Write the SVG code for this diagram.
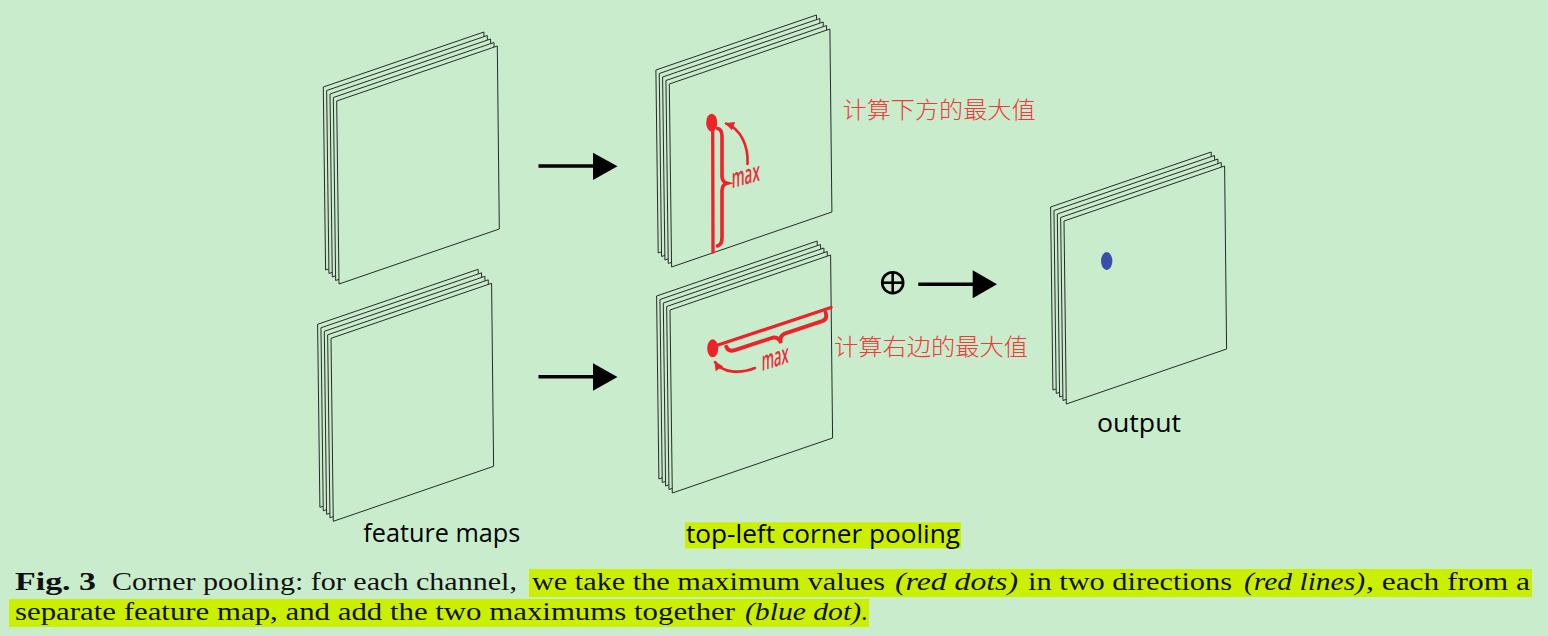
<svg xmlns="http://www.w3.org/2000/svg" xmlns:xlink="http://www.w3.org/1999/xlink" width="1548" height="636" viewBox="0 0 1548 636">
<style>
.sheet{fill:#c8eccc;stroke:#2a2a2a;stroke-width:1;stroke-linejoin:miter}
.red{stroke:#ee2229;fill:none;stroke-linecap:round}
.redf{fill:#ee2229}
.lbl{font-family:"Open Sans","DejaVu Sans",sans-serif;font-size:25px;fill:#000}
.cn{font-family:"Noto Sans CJK SC",sans-serif;font-size:23px;font-weight:300;fill:#f03a3a}
.max{font-family:"Open Sans","DejaVu Sans",sans-serif;font-size:27px;font-weight:600;fill:#e8303a}
.cap{font-family:"Liberation Serif","Times New Roman",serif;font-size:26px;fill:#111}
.it{font-style:italic}
.hl{fill:#cbef00}
.arrow{stroke:#000;stroke-width:3.5}
</style>
<defs>
<polygon id="sh" points="0,0 160.6,-55 162.6,128 2.3,183"/>
<g id="stack">
<use xlink:href="#sh" class="sheet" transform="translate(-13.4,-14)"/>
<use xlink:href="#sh" class="sheet" transform="translate(-10.05,-10.5)"/>
<use xlink:href="#sh" class="sheet" transform="translate(-6.7,-7)"/>
<use xlink:href="#sh" class="sheet" transform="translate(-3.35,-3.5)"/>
<use xlink:href="#sh" class="sheet"/>
</g>
<marker id="ah" viewBox="0 0 10 10" refX="9" refY="5" markerWidth="9" markerHeight="10" markerUnits="userSpaceOnUse" orient="auto">
<path d="M0,0 L10,5 L0,10 z" fill="#ee2229"/>
</marker>
</defs>
<rect width="1548" height="636" fill="#c8eccc"/>

<g id="stack-top-input"><use xlink:href="#stack" transform="translate(336.7,101)"/></g>
<g id="stack-bottom-input"><use xlink:href="#stack" transform="translate(331,338.3)"/></g>
<g id="stack-top-pool"><use xlink:href="#stack" transform="translate(669.3,84)"/></g>
<g id="stack-bottom-pool"><use xlink:href="#stack" transform="translate(670,310)"/></g>
<g id="stack-output"><use xlink:href="#stack" transform="translate(1064,221)"/></g>

<g id="annot-top">
<line class="red" x1="712.7" y1="126" x2="713" y2="252" stroke-width="3.3"/>
<ellipse class="redf" cx="711.7" cy="122.7" rx="5.5" ry="9"/>
<path class="red" stroke-width="3.6" d="M717.5,128.5 Q722,129.5 722,136 L722,176 Q722,182 727,183.3 Q722,184.6 722,191 L722,238 Q722,244.5 717.5,246"/>
<path class="red" stroke-width="2.6" d="M747.5,164 C748.5,146 741,129 726,123.5" marker-end="url(#ah)"/>
<text class="max" transform="matrix(0.5,-0.14,0,1,731.7,188.3)">max</text>
<text class="cn" x="842.5" y="118" textLength="193" lengthAdjust="spacingAndGlyphs">计算下方的最大值</text>
</g>

<g id="annot-bottom">
<line class="red" x1="712" y1="347" x2="831" y2="307.5" stroke-width="3.3"/>
<ellipse class="redf" cx="712.7" cy="348.3" rx="5.5" ry="9"/>
<g transform="translate(712.7,347) rotate(-18.4)">
<path class="red" stroke-width="3.8" d="M13,4 Q13,10 20,10 L58,10 Q66,10 66,18 Q66,10 74,10 L112,10 Q118,10 118,3"/>
</g>
<path class="red" stroke-width="2.6" d="M755,368 C740,374 722,373 715,362" marker-end="url(#ah)"/>
<text class="max" transform="matrix(0.48,-0.15,0,1,761.7,371)">max</text>
<text class="cn" x="834" y="355" textLength="194" lengthAdjust="spacingAndGlyphs">计算右边的最大值</text>
</g>

<g id="blue-dot"><ellipse cx="1106.7" cy="261" rx="5.7" ry="9" fill="#3a4fa8"/></g>

<g id="connectors">
<line class="arrow" x1="538.5" y1="166" x2="594" y2="166"/>
<polygon points="593,152.7 617.5,166.3 593,180"/>
<line class="arrow" x1="538.5" y1="376.7" x2="594" y2="376.7"/>
<polygon points="593,363.3 617.5,377 593,390.7"/>
<line class="arrow" x1="918.3" y1="284.3" x2="974" y2="284.3"/>
<polygon points="972.7,270.3 997,284.3 972.7,298.3"/>
</g>

<g id="oplus" stroke="#000" stroke-width="2.6" fill="none">
<circle cx="892.7" cy="282.7" r="10.5"/>
<line x1="882.2" y1="282.7" x2="903.2" y2="282.7"/>
<line x1="892.7" y1="272.2" x2="892.7" y2="293.2"/>
</g>

<g id="labels">
<text class="lbl" x="363.3" y="541.7" textLength="157" lengthAdjust="spacingAndGlyphs">feature maps</text>
<rect class="hl" x="685" y="522.3" width="276" height="26"/>
<text class="lbl" x="686" y="543.3" textLength="274" lengthAdjust="spacingAndGlyphs">top-left corner pooling</text>
<text class="lbl" x="1097" y="432" textLength="84" lengthAdjust="spacingAndGlyphs">output</text>
</g>

<g id="caption">
<rect class="hl" x="529" y="569" width="1003" height="28"/>
<rect class="hl" x="9" y="599" width="860" height="28"/>
<text class="cap" x="15" y="590" font-weight="bold" textLength="81" lengthAdjust="spacingAndGlyphs">Fig. 3</text>
<text class="cap" x="112" y="590" textLength="405" lengthAdjust="spacingAndGlyphs">Corner pooling: for each channel,</text>
<text class="cap" x="532" y="590" textLength="353" lengthAdjust="spacingAndGlyphs">we take the maximum values</text>
<text class="cap it" x="895" y="590" textLength="123" lengthAdjust="spacingAndGlyphs">(red dots)</text>
<text class="cap" x="1028" y="590" textLength="204" lengthAdjust="spacingAndGlyphs">in two directions</text>
<text class="cap it" x="1244" y="590" textLength="121" lengthAdjust="spacingAndGlyphs">(red lines)</text>
<text class="cap" x="1366" y="590" textLength="164" lengthAdjust="spacingAndGlyphs">, each from a</text>
<text class="cap" x="15" y="620" textLength="720" lengthAdjust="spacingAndGlyphs">separate feature map, and add the two maximums together</text>
<text class="cap it" x="745" y="620" textLength="116" lengthAdjust="spacingAndGlyphs">(blue dot)</text>
<text class="cap" x="861" y="620">.</text>
</g>
</svg>
